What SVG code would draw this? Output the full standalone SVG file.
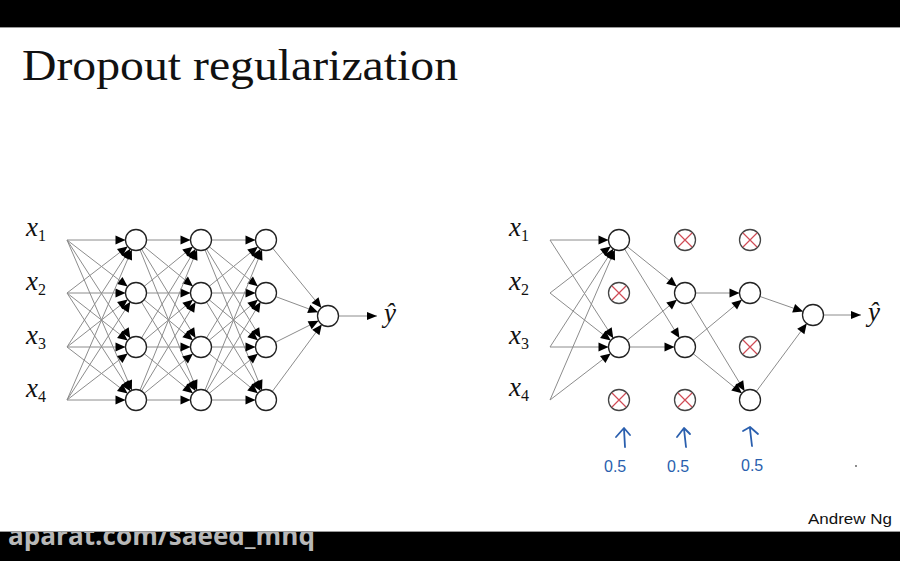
<svg xmlns="http://www.w3.org/2000/svg" width="900" height="561" viewBox="0 0 900 561">
<defs>
<style>
.c{stroke:#8c8c8c;stroke-width:1;fill:none;marker-end:url(#ah)}
.n{fill:#fff;stroke:#222;stroke-width:1.3}
.d{fill:#fff;stroke:#444;stroke-width:1.3}
.xr{stroke:#d04a55;stroke-width:1.2}
.lbl{font-family:"Liberation Serif",serif;font-style:italic;font-size:27px;fill:#111}
.sub{font-family:"Liberation Serif",serif;font-style:normal;font-size:16px}
.hw{stroke:#2a5fae;stroke-width:1.8;fill:none;stroke-linecap:round;stroke-linejoin:round}
.hwt{font-family:"Liberation Sans",sans-serif;font-size:16px;fill:#2a5fae}
</style>
<marker id="ah" viewBox="0 0 10 9" markerWidth="10" markerHeight="9" refX="20.5" refY="4.5" orient="auto" markerUnits="userSpaceOnUse" overflow="visible"><path d="M0,0 L10,4.5 L0,9 z" fill="#000"/></marker>
<marker id="tip" viewBox="0 0 10 8" markerWidth="10" markerHeight="8" refX="10" refY="4" orient="auto" markerUnits="userSpaceOnUse"><path d="M0,0 L10,4 L0,8 z" fill="#000"/></marker>
<clipPath id="wm"><rect x="0" y="532" width="900" height="29"/></clipPath>
</defs>
<rect width="900" height="561" fill="#fff"/>
<rect x="0" y="0" width="900" height="27" fill="#000"/>
<line x1="0" y1="27.5" x2="900" y2="27.5" stroke="#999" stroke-width="1"/>
<rect x="0" y="532" width="900" height="29" fill="#000"/>
<line x1="0" y1="531.5" x2="900" y2="531.5" stroke="#999" stroke-width="1"/>
<text x="22" y="80" font-family="Liberation Serif,serif" font-size="44" textLength="436" lengthAdjust="spacingAndGlyphs" fill="#111">Dropout regularization</text>

<g id="connectors">
<line class="c" x1="67" y1="240" x2="136" y2="240"/><line class="c" x1="67" y1="240" x2="136" y2="293"/><line class="c" x1="67" y1="240" x2="136" y2="347"/><line class="c" x1="67" y1="240" x2="136" y2="400"/>
<line class="c" x1="67" y1="293" x2="136" y2="240"/><line class="c" x1="67" y1="293" x2="136" y2="293"/><line class="c" x1="67" y1="293" x2="136" y2="347"/><line class="c" x1="67" y1="293" x2="136" y2="400"/>
<line class="c" x1="67" y1="347" x2="136" y2="240"/><line class="c" x1="67" y1="347" x2="136" y2="293"/><line class="c" x1="67" y1="347" x2="136" y2="347"/><line class="c" x1="67" y1="347" x2="136" y2="400"/>
<line class="c" x1="67" y1="400" x2="136" y2="240"/><line class="c" x1="67" y1="400" x2="136" y2="293"/><line class="c" x1="67" y1="400" x2="136" y2="347"/><line class="c" x1="67" y1="400" x2="136" y2="400"/>
<line class="c" x1="136" y1="240" x2="201" y2="240"/><line class="c" x1="136" y1="240" x2="201" y2="293"/><line class="c" x1="136" y1="240" x2="201" y2="347"/><line class="c" x1="136" y1="240" x2="201" y2="400"/>
<line class="c" x1="136" y1="293" x2="201" y2="240"/><line class="c" x1="136" y1="293" x2="201" y2="293"/><line class="c" x1="136" y1="293" x2="201" y2="347"/><line class="c" x1="136" y1="293" x2="201" y2="400"/>
<line class="c" x1="136" y1="347" x2="201" y2="240"/><line class="c" x1="136" y1="347" x2="201" y2="293"/><line class="c" x1="136" y1="347" x2="201" y2="347"/><line class="c" x1="136" y1="347" x2="201" y2="400"/>
<line class="c" x1="136" y1="400" x2="201" y2="240"/><line class="c" x1="136" y1="400" x2="201" y2="293"/><line class="c" x1="136" y1="400" x2="201" y2="347"/><line class="c" x1="136" y1="400" x2="201" y2="400"/>
<line class="c" x1="201" y1="240" x2="266" y2="240"/><line class="c" x1="201" y1="240" x2="266" y2="293"/><line class="c" x1="201" y1="240" x2="266" y2="347"/><line class="c" x1="201" y1="240" x2="266" y2="400"/>
<line class="c" x1="201" y1="293" x2="266" y2="240"/><line class="c" x1="201" y1="293" x2="266" y2="293"/><line class="c" x1="201" y1="293" x2="266" y2="347"/><line class="c" x1="201" y1="293" x2="266" y2="400"/>
<line class="c" x1="201" y1="347" x2="266" y2="240"/><line class="c" x1="201" y1="347" x2="266" y2="293"/><line class="c" x1="201" y1="347" x2="266" y2="347"/><line class="c" x1="201" y1="347" x2="266" y2="400"/>
<line class="c" x1="201" y1="400" x2="266" y2="240"/><line class="c" x1="201" y1="400" x2="266" y2="293"/><line class="c" x1="201" y1="400" x2="266" y2="347"/><line class="c" x1="201" y1="400" x2="266" y2="400"/>
<line class="c" x1="266" y1="240" x2="328" y2="316"/><line class="c" x1="266" y1="293" x2="328" y2="316"/><line class="c" x1="266" y1="347" x2="328" y2="316"/><line class="c" x1="266" y1="400" x2="328" y2="316"/>
<line x1="338.5" y1="316" x2="377" y2="316" stroke="#8c8c8c" stroke-width="1" marker-end="url(#tip)"/>

<line class="c" x1="550" y1="240" x2="619" y2="240"/><line class="c" x1="550" y1="240" x2="619" y2="347"/>
<line class="c" x1="550" y1="293" x2="619" y2="240"/><line class="c" x1="550" y1="293" x2="619" y2="347"/>
<line class="c" x1="550" y1="347" x2="619" y2="240"/><line class="c" x1="550" y1="347" x2="619" y2="347"/>
<line class="c" x1="550" y1="400" x2="619" y2="240"/><line class="c" x1="550" y1="400" x2="619" y2="347"/>
<line class="c" x1="619" y1="240" x2="685" y2="293"/><line class="c" x1="619" y1="240" x2="685" y2="347"/>
<line class="c" x1="619" y1="347" x2="685" y2="293"/><line class="c" x1="619" y1="347" x2="685" y2="347"/>
<line class="c" x1="685" y1="293" x2="750" y2="293"/><line class="c" x1="685" y1="293" x2="750" y2="400"/>
<line class="c" x1="685" y1="347" x2="750" y2="293"/><line class="c" x1="685" y1="347" x2="750" y2="400"/>
<line class="c" x1="750" y1="293" x2="813" y2="315"/><line class="c" x1="750" y1="400" x2="813" y2="315"/>
<line x1="823.5" y1="315" x2="861" y2="315" stroke="#8c8c8c" stroke-width="1" marker-end="url(#tip)"/>
</g>

<g id="L-h1-1"><circle class="n" cx="136" cy="240" r="10.5"/></g>
<g id="L-h1-2"><circle class="n" cx="136" cy="293" r="10.5"/></g>
<g id="L-h1-3"><circle class="n" cx="136" cy="347" r="10.5"/></g>
<g id="L-h1-4"><circle class="n" cx="136" cy="400" r="10.5"/></g>
<g id="L-h2-1"><circle class="n" cx="201" cy="240" r="10.5"/></g>
<g id="L-h2-2"><circle class="n" cx="201" cy="293" r="10.5"/></g>
<g id="L-h2-3"><circle class="n" cx="201" cy="347" r="10.5"/></g>
<g id="L-h2-4"><circle class="n" cx="201" cy="400" r="10.5"/></g>
<g id="L-h3-1"><circle class="n" cx="266" cy="240" r="10.5"/></g>
<g id="L-h3-2"><circle class="n" cx="266" cy="293" r="10.5"/></g>
<g id="L-h3-3"><circle class="n" cx="266" cy="347" r="10.5"/></g>
<g id="L-h3-4"><circle class="n" cx="266" cy="400" r="10.5"/></g>
<g id="L-out"><circle class="n" cx="328" cy="316" r="10.5"/></g>

<g id="L-x1"><text class="lbl" x="26" y="236">x<tspan class="sub" dy="5">1</tspan></text></g>
<g id="L-x2"><text class="lbl" x="26" y="290">x<tspan class="sub" dy="5">2</tspan></text></g>
<g id="L-x3"><text class="lbl" x="26" y="344">x<tspan class="sub" dy="5">3</tspan></text></g>
<g id="L-x4"><text class="lbl" x="26" y="397">x<tspan class="sub" dy="5">4</tspan></text></g>
<g id="L-yhat"><text class="lbl" x="384" y="322">ŷ</text></g>

<g id="R-h1-1"><circle class="n" cx="619" cy="240" r="10.5"/></g>
<g id="R-h1-2"><circle class="d" cx="619" cy="293" r="10.5"/><path class="xr" d="M612,286 L626,300 M626,286 L612,300"/></g>
<g id="R-h1-3"><circle class="n" cx="619" cy="347" r="10.5"/></g>
<g id="R-h1-4"><circle class="d" cx="619" cy="400" r="10.5"/><path class="xr" d="M612,393 L626,407 M626,393 L612,407"/></g>
<g id="R-h2-1"><circle class="d" cx="685" cy="240" r="10.5"/><path class="xr" d="M678,233 L692,247 M692,233 L678,247"/></g>
<g id="R-h2-2"><circle class="n" cx="685" cy="293" r="10.5"/></g>
<g id="R-h2-3"><circle class="n" cx="685" cy="347" r="10.5"/></g>
<g id="R-h2-4"><circle class="d" cx="685" cy="400" r="10.5"/><path class="xr" d="M678,393 L692,407 M692,393 L678,407"/></g>
<g id="R-h3-1"><circle class="d" cx="750" cy="240" r="10.5"/><path class="xr" d="M743,233 L757,247 M757,233 L743,247"/></g>
<g id="R-h3-2"><circle class="n" cx="750" cy="293" r="10.5"/></g>
<g id="R-h3-3"><circle class="d" cx="750" cy="347" r="10.5"/><path class="xr" d="M743,340 L757,354 M757,340 L743,354"/></g>
<g id="R-h3-4"><circle class="n" cx="750" cy="400" r="10.5"/></g>
<g id="R-out"><circle class="n" cx="813" cy="315" r="10.5"/></g>

<g id="R-x1"><text class="lbl" x="509" y="236">x<tspan class="sub" dy="5">1</tspan></text></g>
<g id="R-x2"><text class="lbl" x="509" y="290">x<tspan class="sub" dy="5">2</tspan></text></g>
<g id="R-x3"><text class="lbl" x="509" y="344">x<tspan class="sub" dy="5">3</tspan></text></g>
<g id="R-x4"><text class="lbl" x="509" y="396">x<tspan class="sub" dy="5">4</tspan></text></g>
<g id="R-yhat"><text class="lbl" x="868" y="321">ŷ</text></g>

<g id="note1"><path class="hw" d="M625,447 L624,429 M616,437 L624,428 L630,435"/><text class="hwt" x="604" y="472">0.5</text></g>
<g id="note2"><path class="hw" d="M686,447 L684,429 M677,437 L684,428 L690,434"/><text class="hwt" x="667" y="472">0.5</text></g>
<g id="note3"><path class="hw" d="M752,446 L750,429 M743,431 L750,427 L758,434"/><text class="hwt" x="741" y="471">0.5</text></g>
<circle cx="856" cy="466" r="0.9" fill="#555"/>

<text x="892" y="524" text-anchor="end" font-family="Liberation Sans,sans-serif" font-size="15" textLength="84" lengthAdjust="spacingAndGlyphs" fill="#111">Andrew Ng</text>
<text x="8" y="545" clip-path="url(#wm)" font-family="Open Sans,Liberation Sans,sans-serif" font-weight="bold" font-size="26" textLength="307" lengthAdjust="spacingAndGlyphs" fill="#b8b8b8">aparat.com/saeed_mnq</text>
</svg>
